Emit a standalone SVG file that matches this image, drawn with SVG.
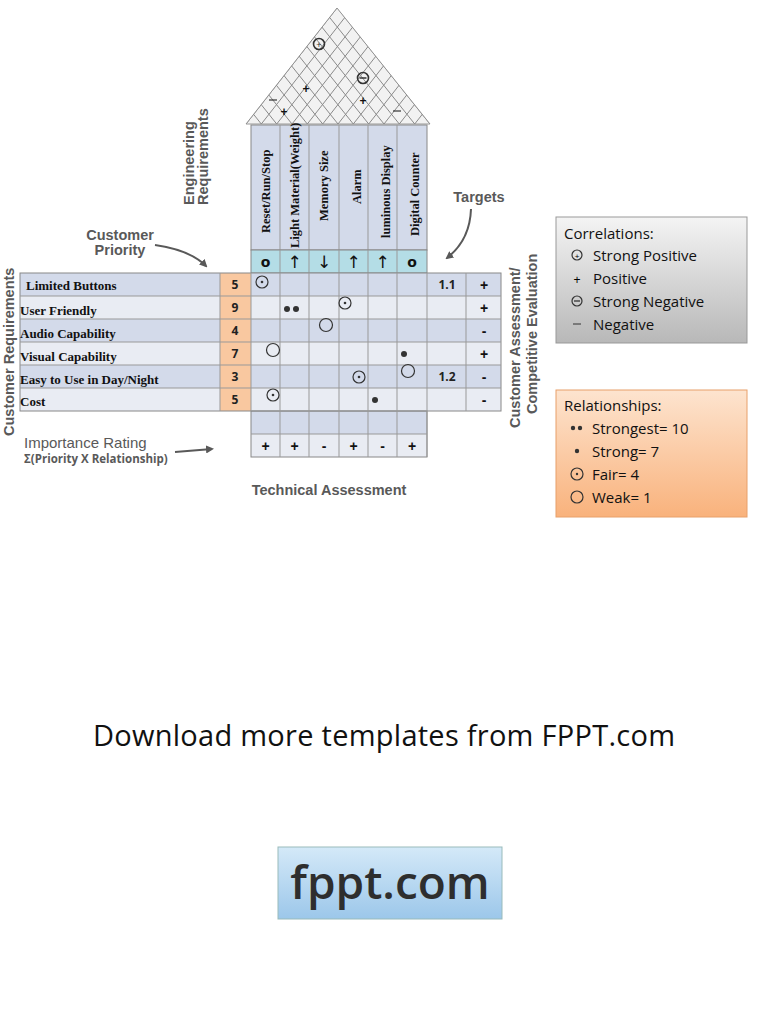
<svg xmlns="http://www.w3.org/2000/svg" width="768" height="1024" viewBox="0 0 768 1024">
<defs>
<clipPath id="roofclip"><polygon points="337,8 246,124 430,124"/></clipPath>
<linearGradient id="gray" x1="0" y1="0" x2="0" y2="1"><stop offset="0" stop-color="#f4f4f4"/><stop offset="1" stop-color="#b8b8b8"/></linearGradient>
<linearGradient id="orange" x1="0" y1="0" x2="0" y2="1"><stop offset="0" stop-color="#fde4cf"/><stop offset="1" stop-color="#f9b27c"/></linearGradient>
<linearGradient id="blue" x1="0" y1="0" x2="0" y2="1"><stop offset="0" stop-color="#d4e9f8"/><stop offset="1" stop-color="#9cc7ea"/></linearGradient>
<marker id="ah" markerWidth="8" markerHeight="8" refX="6" refY="4" orient="auto" markerUnits="userSpaceOnUse"><path d="M0,0 L8,4 L0,8 z" fill="#595959"/></marker>
</defs>
<style>
.lbl{font-family:"Liberation Serif",serif;font-weight:bold;font-size:13px;fill:#111}
.hdr{font-family:"Liberation Serif",serif;font-weight:bold;font-size:12.5px;fill:#111}
.ann{font-family:"Liberation Sans",Arial,sans-serif;font-weight:bold;font-size:14.5px;fill:#595959}
.num{font-family:"Open Sans",sans-serif;font-size:12px;fill:#222;text-anchor:middle}
.tgt{font-family:"DejaVu Sans",sans-serif;font-size:17px;fill:#111;text-anchor:middle}
.sym{font-family:"Liberation Sans",sans-serif;font-weight:bold;font-size:14px;fill:#111;text-anchor:middle}
.grid{stroke:#999;stroke-width:1}
.leg{font-family:"Open Sans",sans-serif;font-size:15px;fill:#111}
.ring{fill:none;stroke:#333;stroke-width:1.2}
</style>
<rect width="768" height="1024" fill="#fff"/>

<g id="roof">
<polygon points="337,8 246,124 430,124" fill="#f2f2f2" stroke="#999"/>
<g clip-path="url(#roofclip)" stroke="#8a8a8a" stroke-width="1">
<path d="M246,124 l109,-139 M261.3,124 l109,-139 M276.7,124 l109,-139 M292,124 l109,-139 M307.3,124 l109,-139 M322.7,124 l109,-139 M338,124 l109,-139 M353.3,124 l109,-139 M368.7,124 l109,-139 M384,124 l109,-139 M399.3,124 l109,-139 M414.7,124 l109,-139 M430,124 l109,-139"/>
<path d="M246,124 l-111,-139 M261.3,124 l-111,-139 M276.7,124 l-111,-139 M292,124 l-111,-139 M307.3,124 l-111,-139 M322.7,124 l-111,-139 M338,124 l-111,-139 M353.3,124 l-111,-139 M368.7,124 l-111,-139 M384,124 l-111,-139 M399.3,124 l-111,-139 M414.7,124 l-111,-139 M430,124 l-111,-139"/>
</g>
<circle cx="319" cy="44" r="5.5" class="ring" style="stroke-width:1.6"/><text x="319" y="48" style="font-family:'Liberation Sans';font-size:9px" text-anchor="middle" fill="#333">+</text>
<circle cx="363" cy="78" r="5.5" class="ring" style="stroke-width:1.6"/><line x1="359.5" y1="78" x2="366.5" y2="78" stroke="#333" stroke-width="1.5"/>
<text x="306" y="93" class="sym" style="font-size:12px">+</text>
<text x="363" y="105" class="sym" style="font-size:12px">+</text>
<text x="284" y="116" class="sym" style="font-size:12px">+</text>
<line x1="269" y1="100" x2="277" y2="100" stroke="#333" stroke-width="1.2"/>
<line x1="393" y1="111" x2="401" y2="111" stroke="#333" stroke-width="1.2"/>
</g>

<g id="headers">
<rect x="251" y="125" width="176" height="125" fill="#d3daea" stroke="#888"/>
<path d="M280,125v125M309,125v125M339,125v125M368,125v125M397,125v125" class="grid"/>
<g class="hdr">
<text transform="translate(270,233) rotate(-90)">Reset/Run/Stop</text>
<text transform="translate(299,248) rotate(-90)">Light Material(Weight)</text>
<text transform="translate(328,221) rotate(-90)">Memory Size</text>
<text transform="translate(361,204) rotate(-90)">Alarm</text>
<text transform="translate(390,238) rotate(-90)">luminous Display</text>
<text transform="translate(419,236) rotate(-90)">Digital Counter</text>
</g>
<rect x="251" y="250" width="176" height="23" fill="#b4dde6" stroke="#888"/>
<path d="M280,250v23M309,250v23M339,250v23M368,250v23M397,250v23" class="grid"/>
<g class="tgt">
<text x="265.5" y="267" style="font-size:14px;font-weight:bold">o</text><text x="294.5" y="268">↑</text><text x="324" y="268">↓</text><text x="353.5" y="268">↑</text><text x="382.5" y="268">↑</text><text x="412" y="267" style="font-size:14px;font-weight:bold">o</text>
</g>
</g>

<g id="matrix">
<rect x="20" y="273" width="481" height="23" fill="#d3daea"/>
<rect x="20" y="296" width="481" height="23" fill="#e9ecf3"/>
<rect x="20" y="319" width="481" height="23" fill="#d3daea"/>
<rect x="20" y="342" width="481" height="23" fill="#e9ecf3"/>
<rect x="20" y="365" width="481" height="23" fill="#d3daea"/>
<rect x="20" y="388" width="481" height="23" fill="#e9ecf3"/>
<rect x="220" y="273" width="31" height="138" fill="#f9c8a0"/>
<rect x="251" y="411" width="176" height="23" fill="#d3daea"/>
<rect x="251" y="434" width="176" height="23" fill="#e9ecf3"/>
<rect x="20" y="273" width="481" height="138" fill="none" stroke="#888"/>
<rect x="251" y="411" width="176" height="46" fill="none" stroke="#888"/>
<path d="M20,296h481M20,319h481M20,342h481M20,365h481M20,388h481M251,434h176M220,273v138M251,273v138M280,273v184M309,273v184M339,273v184M368,273v184M397,273v184M427,273v184M466,273v138" class="grid"/>
<g class="lbl">
<text x="26" y="290">Limited Buttons</text>
<text x="20" y="315">User Friendly</text>
<text x="20" y="338">Audio Capability</text>
<text x="20" y="361">Visual Capability</text>
<text x="20" y="384">Easy to Use in Day/Night</text>
<text x="20" y="406">Cost</text>
</g>
<g class="num" style="font-weight:bold">
<text x="235" y="289">5</text><text x="235" y="312">9</text><text x="235" y="335">4</text><text x="235" y="358">7</text><text x="235" y="381">3</text><text x="235" y="404">5</text>
<text x="447" y="289">1.1</text><text x="447" y="381">1.2</text>
</g>
<g class="sym">
<text x="484" y="290">+</text><text x="484" y="313">+</text><text x="484" y="336">-</text><text x="484" y="359">+</text><text x="484" y="382">-</text><text x="484" y="405">-</text>
<text x="265.5" y="451">+</text><text x="294.5" y="451">+</text><text x="324" y="451">-</text><text x="353.5" y="451">+</text><text x="382.5" y="451">-</text><text x="412" y="451">+</text>
</g>
<g id="marks">
<circle cx="262" cy="282" r="6" class="ring"/><circle cx="262" cy="282" r="1.3" fill="#333"/>
<circle cx="345" cy="303" r="6" class="ring"/><circle cx="345" cy="303" r="1.3" fill="#333"/>
<circle cx="359" cy="377" r="6" class="ring"/><circle cx="359" cy="377" r="1.3" fill="#333"/>
<circle cx="273" cy="395" r="6" class="ring"/><circle cx="273" cy="395" r="1.3" fill="#333"/>
<circle cx="326" cy="325" r="6.5" class="ring"/>
<circle cx="273" cy="350" r="6.5" class="ring"/>
<circle cx="408" cy="371" r="6.5" class="ring"/>
<circle cx="287" cy="309" r="3" fill="#333"/><circle cx="296" cy="309" r="3" fill="#333"/>
<circle cx="404" cy="354" r="3" fill="#333"/>
<circle cx="375" cy="400" r="3" fill="#333"/>
</g>
</g>

<g id="annotations">
<text class="ann" transform="translate(14,436) rotate(-90)">Customer Requirements</text>
<text class="ann" transform="translate(194,205) rotate(-90)">Engineering</text>
<text class="ann" transform="translate(208,205) rotate(-90)">Requirements</text>
<text class="ann" x="120" y="240" text-anchor="middle">Customer</text>
<text class="ann" x="120" y="255" text-anchor="middle">Priority</text>
<text class="ann" x="479" y="202" text-anchor="middle">Targets</text>
<text class="ann" transform="translate(520,428) rotate(-90)">Customer Assessment/</text>
<text class="ann" transform="translate(537,414) rotate(-90)">Competitive Evaluation</text>
<text class="ann" x="24" y="448" style="font-weight:normal;font-size:15px">Importance Rating</text>
<text x="24" y="463" style="font-family:'Open Sans';font-size:11.5px;font-weight:bold" fill="#595959">Σ(Priority X Relationship)</text>
<text class="ann" x="329" y="495" text-anchor="middle">Technical Assessment</text>
</g>
<g id="connectors" fill="none" stroke="#595959" stroke-width="2">
<path d="M155,245 Q190,250 206,266" marker-end="url(#ah)"/>
<path d="M471,209 Q470,240 447,258" marker-end="url(#ah)"/>
<path d="M175,452 L212,449" marker-end="url(#ah)"/>
</g>

<g id="legend-correlations">
<rect x="556" y="217" width="191" height="126" fill="url(#gray)" stroke="#999"/>
<text class="leg" x="564" y="239">Correlations:</text>
<circle cx="577" cy="255" r="5" class="ring"/><text x="577" y="258.5" style="font-family:'Liberation Sans';font-size:8px" text-anchor="middle">+</text>
<text class="leg" x="593" y="261">Strong Positive</text>
<text x="577" y="284" style="font-family:'Liberation Sans';font-size:12px" text-anchor="middle">+</text>
<text class="leg" x="593" y="284">Positive</text>
<circle cx="577" cy="301" r="5" class="ring"/><line x1="574" y1="301" x2="580" y2="301" stroke="#333" stroke-width="1.3"/>
<text class="leg" x="593" y="307">Strong Negative</text>
<line x1="573" y1="324" x2="581" y2="324" stroke="#333"/>
<text class="leg" x="593" y="330">Negative</text>
</g>
<g id="legend-relationships">
<rect x="556" y="390" width="191" height="127" fill="url(#orange)" stroke="#e8a06a"/>
<text class="leg" x="564" y="411">Relationships:</text>
<circle cx="573" cy="428" r="2.2" fill="#333"/><circle cx="580" cy="428" r="2.2" fill="#333"/>
<text class="leg" x="592" y="434">Strongest= 10</text>
<circle cx="577" cy="451" r="2.2" fill="#333"/>
<text class="leg" x="592" y="457">Strong= 7</text>
<circle cx="577" cy="474" r="6" class="ring"/><circle cx="577" cy="474" r="1.2" fill="#333"/>
<text class="leg" x="592" y="480">Fair= 4</text>
<circle cx="577" cy="497" r="6" class="ring"/>
<text class="leg" x="592" y="503">Weak= 1</text>
</g>

<g id="footer">
<text x="384" y="746" style="font-family:'Open Sans';font-size:29px" text-anchor="middle" fill="#111" textLength="582">Download more templates from FPPT.com</text>
<rect x="278" y="847" width="224" height="72" fill="url(#blue)" stroke="#9bb"/>
<text x="390" y="899" style="font-family:'Open Sans';font-size:46px;font-weight:600" text-anchor="middle" fill="#2e2e2e">fppt.com</text>
</g>
</svg>
